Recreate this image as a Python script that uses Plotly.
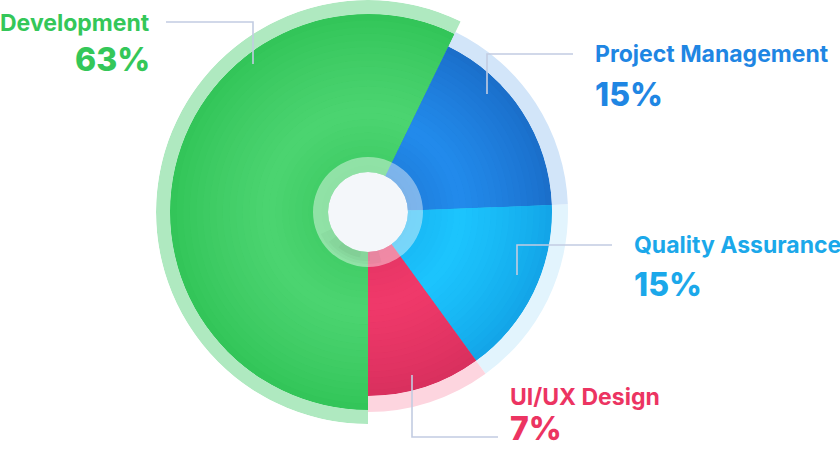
import plotly.graph_objects as go

# ---------------- data ----------------
categories = ["Development", "Project Management", "Quality Assurance", "UI/UX Design"]
percent_values = [63, 15, 15, 7]
# angular share of the circle each slice occupies in the drawing
arc_share = [57.2, 17.2, 15.6, 10.0]

# ---------------- styles ----------------
W, H = 840, 450
CX, CY = 368, 212          # pixel centre of the pie
R_MAX = 212                # pixel radius of the outer ring of the biggest slice
slice_radius = [198, 184, 184, 184]
ring_width = [14, 16, 16, 16]
dark_col = ["#31c457", "#1a6dc8", "#12a3e6", "#d72f5d"]
light_col = ["#4cd471", "#228bec", "#1cc5fe", "#f0396a"]
ring_col = ["#afe9c0", "#d2e5f9", "#e2f4fd", "#fdd5df"]
text_col = ["#34c759", "#1f86e3", "#1ba8ea", "#ec3462"]
line_col = "#c2cce2"
FONT = "Inter"
NAME_SIZE = 23
PCT_SIZE = 32


def hex2rgb(h):
    h = h.lstrip("#")
    return tuple(int(h[i:i + 2], 16) for i in (0, 2, 4))


def mix(c1, c2, t):
    a, b = hex2rgb(c1), hex2rgb(c2)
    return "rgb(%d,%d,%d)" % tuple(round(a[i] + (b[i] - a[i]) * t) for i in range(3))


fig = go.Figure()

# angular geometry from the shares (clockwise, starting at 6 o'clock)
start = 180.0
centers, widths = [], []
for s in arc_share:
    w = s / 100 * 360
    centers.append(start + w / 2)
    widths.append(w)
    start += w

# slices with a soft radial gradient
NB = 30
for i, cat in enumerate(categories):
    R = slice_radius[i]
    th, wd, base, rr, cols = [centers[i]], [widths[i]], [0], [R], [dark_col[i]]
    for k in range(NB):
        b0 = R * k / NB
        t = (k + 0.5) / NB
        f = max(0.0, 1 - abs(t - 0.5) / 0.5) ** 0.8
        th.append(centers[i]); wd.append(widths[i])
        base.append(b0); rr.append(R / NB + (0.6 if k < NB - 1 else 0))
        cols.append(mix(dark_col[i], light_col[i], f))
    # outer ring
    th.append(centers[i]); wd.append(widths[i]); base.append(R); rr.append(ring_width[i]); cols.append(ring_col[i])
    fig.add_trace(go.Barpolar(theta=th, width=wd, base=base, r=rr,
                              marker=dict(color=cols, line=dict(width=0)),
                              hoverinfo="skip", name=cat))

# centre: translucent ring, soft shadow, white disc
fig.add_trace(go.Barpolar(theta=[0], width=[360], base=[40], r=[15],
                          marker=dict(color="rgba(255,255,255,0.42)", line=dict(width=0)),
                          hoverinfo="skip"))
fig.add_trace(go.Barpolar(theta=[205, 205, 205], width=[80, 55, 30], base=[40, 40, 40], r=[12, 9, 6],
                          marker=dict(color=["rgba(20,60,40,0.035)"] * 3, line=dict(width=0)),
                          hoverinfo="skip"))
fig.add_trace(go.Barpolar(theta=[0], width=[360], base=[0], r=[40],
                          marker=dict(color="#f4f7fa", line=dict(width=0)),
                          hoverinfo="skip"))

# ---------------- labels ----------------
def px(x):
    return x / W


def py(y):
    return 1 - y / H


# (name x, name y-centre, pct y-centre, anchor, leader line path in pixels)
label_pos = [
    (152, 23, 60, "right", [(166, 22), (253, 22), (253, 64)]),
    (593, 54, 94, "left", [(573, 54), (487, 54), (487, 94)]),
    (632, 245, 284, "left", [(612, 245), (517, 245), (517, 275)]),
    (508, 397, 428, "left", [(412, 375), (412, 437), (498, 437)]),
]

for i, cat in enumerate(categories):
    x, yn, yp, anc, path = label_pos[i]
    fig.add_annotation(x=px(x), y=py(yn), xref="paper", yref="paper", text=cat,
                       showarrow=False, xanchor=anc, yanchor="middle",
                       font=dict(family=FONT, size=NAME_SIZE, color=text_col[i], weight=700))
    fig.add_annotation(x=px(x), y=py(yp), xref="paper", yref="paper", text=f"{percent_values[i]}%",
                       showarrow=False, xanchor=anc, yanchor="middle",
                       font=dict(family=FONT, size=PCT_SIZE, color=text_col[i], weight=800))
    d = "M " + " L ".join(f"{px(a)},{py(b)}" for a, b in path)
    fig.add_shape(type="path", path=d, xref="paper", yref="paper",
                  line=dict(color=line_col, width=1.6), layer="above")

fig.update_layout(
    width=W, height=H, margin=dict(l=0, r=0, t=0, b=0),
    paper_bgcolor="white", plot_bgcolor="white", showlegend=False,
    polar=dict(
        domain=dict(x=[(CX - R_MAX) / W, (CX + R_MAX) / W],
                    y=[1 - (CY + R_MAX) / H, 1 - (CY - R_MAX) / H]),
        bgcolor="rgba(0,0,0,0)", barmode="overlay", bargap=0, hole=0,
        radialaxis=dict(range=[0, R_MAX], visible=False, showgrid=False),
        angularaxis=dict(rotation=90, direction="clockwise", visible=False, showgrid=False),
    ),
)

fig.write_html("out.html", config={"displayModeBar": False, "staticPlot": True},
               post_script="document.body.style.margin='0';document.body.style.overflow='hidden';")
